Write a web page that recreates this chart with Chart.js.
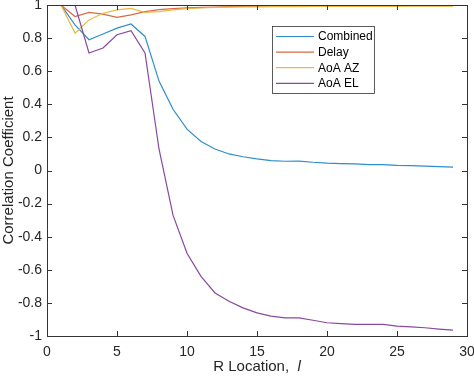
<!DOCTYPE html>
<html>
<head>
<meta charset="utf-8">
<script src="https://cdn.jsdelivr.net/npm/chart.js@4.4.1/dist/chart.umd.min.js"></script>
<style>
  html, body { margin: 0; padding: 0; background: #fff; }
  #wrap { width: 474px; height: 377px; }
</style>
</head>
<body>
<div id="wrap"><canvas id="c" width="474" height="377"></canvas></div>
<script>
const rLocation = [1,2,3,4,5,6,7,8,9,10,11,12,13,14,15,16,17,18,19,20,21,22,23,24,25,26,27,28,29];
const combined = [1.0,0.88,0.79,0.825,0.86,0.885,0.81,0.54,0.37,0.25,0.175,0.13,0.10,0.083,0.07,0.06,0.056,0.057,0.05,0.045,0.042,0.04,0.036,0.035,0.031,0.03,0.026,0.023,0.02];
const delay = [1.0,0.93,0.955,0.945,0.925,0.94,0.96,0.972,0.978,0.983,0.986,0.988,0.99,0.991,0.992,0.993,0.993,0.994,0.994,0.994,0.995,0.995,0.995,0.995,0.996,0.996,0.996,0.996,0.996];
const aoaAZ = [1.0,0.83,0.91,0.95,0.97,0.98,0.955,0.96,0.97,0.978,0.982,0.985,0.987,0.988,0.989,0.99,0.99,0.99,0.991,0.991,0.991,0.992,0.992,0.992,0.992,0.993,0.993,0.993,0.993];
const aoaEL = [1.0,1.0,0.71,0.74,0.82,0.845,0.71,0.13,-0.27,-0.50,-0.64,-0.74,-0.79,-0.83,-0.86,-0.88,-0.89,-0.89,-0.905,-0.92,-0.925,-0.93,-0.93,-0.93,-0.94,-0.945,-0.95,-0.958,-0.965];
const seriesNames = ['Combined','Delay','AoA AZ','AoA EL'];
const seriesColors = ['#2f8dca','#d66a45','#ebb848','#8a48a0'];
const xTicks = [0,5,10,15,20,25,30];
const yTicks = [-1,-0.8,-0.6,-0.4,-0.2,0,0.2,0.4,0.6,0.8,1];
const xTitle = 'R Location,  ';
const xTitleVar = 'l';
const yTitle = 'Correlation Coefficient';

const FONT = '"Liberation Sans", Arial, Helvetica, sans-serif';
const allSeries = [combined, delay, aoaAZ, aoaEL];

const datasets = allSeries.map((vals, i) => ({
  label: seriesNames[i],
  data: rLocation.map((x, k) => ({x: x, y: vals[k]})),
  borderColor: seriesColors[i],
  backgroundColor: seriesColors[i],
  borderWidth: 1.2,
  pointRadius: 0,
  tension: 0,
  fill: false,
  order: 4 - i
}));

const framePlugin = {
  id: 'frame',
  afterDatasetsDraw(chart) {
    const {ctx, chartArea: a, scales} = chart;
    ctx.save();
    ctx.strokeStyle = '#333';
    ctx.lineWidth = 1;
    ctx.strokeRect(Math.round(a.left) + 0.5, Math.round(a.top) + 0.5,
                   Math.round(a.right - a.left), Math.round(a.bottom - a.top));
    const tl = 5;
    ctx.beginPath();
    xTicks.forEach(v => {
      const px = Math.round(scales.x.getPixelForValue(v)) + 0.5;
      ctx.moveTo(px, a.bottom); ctx.lineTo(px, a.bottom - tl);
      ctx.moveTo(px, a.top); ctx.lineTo(px, a.top + tl);
    });
    yTicks.forEach(v => {
      const py = Math.round(scales.y.getPixelForValue(v)) + 0.5;
      ctx.moveTo(a.left, py); ctx.lineTo(a.left + tl, py);
      ctx.moveTo(a.right, py); ctx.lineTo(a.right - tl, py);
    });
    ctx.stroke();

    // legend box
    const bx = 272, by = 26, bw = 102, bh = 67;
    ctx.fillStyle = '#fff';
    ctx.fillRect(bx, by, bw, bh);
    ctx.strokeStyle = '#333';
    ctx.lineWidth = 0.8;
    ctx.strokeRect(bx + 0.5, by + 0.5, bw, bh);
    ctx.font = '12px ' + FONT;
    ctx.textBaseline = 'middle';
    ctx.textAlign = 'left';
    chart.data.datasets.forEach((ds, i) => {
      const y = 36.5 + i * 15.6;
      ctx.strokeStyle = ds.borderColor;
      ctx.lineWidth = 1.2;
      ctx.beginPath();
      ctx.moveTo(276, y); ctx.lineTo(314, y);
      ctx.stroke();
      ctx.fillStyle = '#000';
      ctx.fillText(ds.label, 318, y + 0.5);
    });

    // x axis title with italic variable
    ctx.fillStyle = '#262626';
    ctx.textBaseline = 'middle';
    const fN = '15px ' + FONT, fI = 'italic 15px ' + FONT;
    ctx.font = fN; const w1 = ctx.measureText(xTitle).width;
    ctx.font = fI; const w2 = ctx.measureText(xTitleVar).width;
    const cx = (a.left + a.right) / 2;
    const sx = cx - (w1 + w2) / 2;
    ctx.font = fN; ctx.fillText(xTitle, sx, 367);
    ctx.font = fI; ctx.fillText(xTitleVar, sx + w1, 367);
    ctx.restore();
  }
};

new Chart(document.getElementById('c'), {
  type: 'line',
  data: { datasets },
  plugins: [framePlugin],
  options: {
    responsive: false,
    animation: false,
    devicePixelRatio: 1,
    layout: { autoPadding: false, padding: { left: 0, right: 7, top: 5, bottom: 0 } },
    plugins: { legend: { display: false }, tooltip: { enabled: false } },
    scales: {
      x: {
        type: 'linear', min: 0, max: 30,
        afterFit: s => { s.height = 41; s.paddingLeft = 0; s.paddingRight = 0; s.paddingTop = 0; s.paddingBottom = 0; },
        afterBuildTicks: s => { s.ticks = xTicks.map(v => ({value: v})); },
        grid: { display: false, drawTicks: false },
        border: { display: false },
        ticks: { color: '#262626', font: { size: 14, family: FONT }, padding: 8, maxRotation: 0,
                 callback: v => String(v) },
        title: { display: false }
      },
      y: {
        type: 'linear', min: -1, max: 1,
        afterFit: s => { s.width = 47; s.paddingLeft = 0; s.paddingRight = 0; s.paddingTop = 0; s.paddingBottom = 0; },
        afterBuildTicks: s => { s.ticks = yTicks.map(v => ({value: v})); },
        grid: { display: false, drawTicks: false },
        border: { display: false },
        ticks: { color: '#262626', font: { size: 14, family: FONT }, padding: 5,
                 callback: v => String(Math.round(v * 10) / 10) },
        title: { display: true, text: yTitle, color: '#262626',
                 font: { size: 15, family: FONT }, padding: { top: 0, bottom: 0 } }
      }
    }
  }
});
</script>
</body>
</html>
